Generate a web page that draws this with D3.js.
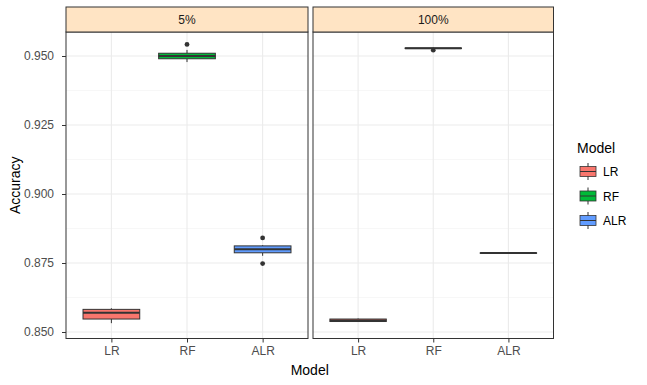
<!DOCTYPE html>
<html><head><meta charset="utf-8">
<script src="https://cdn.jsdelivr.net/npm/d3@7"></script>
<style>body{margin:0;background:#fff}svg{display:block}text{font-family:"Liberation Sans",Arial,sans-serif}</style>
</head><body>
<script>
const facets = ["5%", "100%"];
const models = ["LR", "RF", "ALR"];
const colors = ["#F8766D", "#00BA38", "#619CFF"];
const yTicks = [0.850, 0.875, 0.900, 0.925, 0.950];
// box stats per facet, per model: [lowWhisker, q1, median, q3, highWhisker]
const stats5 = [
  [0.8532, 0.8547, 0.8570, 0.8582, 0.8586],
  [0.9478, 0.9490, 0.9500, 0.9510, 0.9522],
  [0.8776, 0.8787, 0.8800, 0.8812, 0.8815]
];
const stats100 = [
  [0.8537, 0.8538, 0.8542, 0.8547, 0.8549],
  [0.9526, 0.9527, 0.9528, 0.9529, 0.9530],
  [0.8785, 0.8785, 0.8786, 0.8787, 0.8788]
];
const outliers5 = [[], [0.9542], [0.8841, 0.8748]];
const outliers100 = [[], [0.9521], []];

const W = 647, H = 385;
const svg = d3.select("body").append("svg").attr("width", W).attr("height", H);
const panels = [
  {x0: 66, x1: 308, stats: stats5, out: outliers5},
  {x0: 313, x1: 553.5, stats: stats100, out: outliers100}
];
const stripTop = 7, panelTop = 32, panelBottom = 338.5;
const y = d3.scaleLinear().domain([0.850, 0.950]).range([332, 56]);
const minorTicks = d3.range(0.8375, 0.97, 0.025);

panels.forEach((p, pi) => {
  const unit = (p.x1 - p.x0) / 3.2;
  const x = d3.scalePoint().domain(models).range([p.x0 + unit * 0.6, p.x1 - unit * 0.6]);
  const cx = m => x(m);
  const g = svg.append("g");
  g.append("rect").attr("x", p.x0).attr("y", panelTop).attr("width", p.x1 - p.x0).attr("height", panelBottom - panelTop).attr("fill", "#fff");
  minorTicks.forEach(t => {
    const yy = y(t);
    if (yy > panelTop && yy < panelBottom)
      g.append("line").attr("x1", p.x0).attr("x2", p.x1).attr("y1", yy).attr("y2", yy).attr("stroke", "#F2F2F2").attr("stroke-width", 0.6);
  });
  yTicks.forEach(t => {
    g.append("line").attr("x1", p.x0).attr("x2", p.x1).attr("y1", y(t)).attr("y2", y(t)).attr("stroke", "#EBEBEB").attr("stroke-width", 1.1);
  });
  models.forEach(m => {
    g.append("line").attr("x1", cx(m)).attr("x2", cx(m)).attr("y1", panelTop).attr("y2", panelBottom).attr("stroke", "#EBEBEB").attr("stroke-width", 1.1);
  });
  const bw = unit * 0.75;
  models.forEach((m, i) => {
    const s = p.stats[i];
    const c = cx(m);
    g.append("line").attr("x1", c).attr("x2", c).attr("y1", y(s[4])).attr("y2", y(s[3])).attr("stroke", "#333").attr("stroke-width", 1);
    g.append("line").attr("x1", c).attr("x2", c).attr("y1", y(s[1])).attr("y2", y(s[0])).attr("stroke", "#333").attr("stroke-width", 1);
    g.append("rect").attr("x", c - bw / 2).attr("y", y(s[3])).attr("width", bw).attr("height", Math.max(0, y(s[1]) - y(s[3])))
      .attr("fill", colors[i]).attr("stroke", "#333").attr("stroke-width", 1);
    g.append("line").attr("x1", c - bw / 2).attr("x2", c + bw / 2).attr("y1", y(s[2])).attr("y2", y(s[2])).attr("stroke", "#333").attr("stroke-width", 2);
    p.out[i].forEach(o => {
      g.append("circle").attr("cx", c).attr("cy", y(o)).attr("r", 2.4).attr("fill", "#333");
    });
  });
  g.append("rect").attr("x", p.x0).attr("y", panelTop).attr("width", p.x1 - p.x0).attr("height", panelBottom - panelTop).attr("fill", "none").attr("stroke", "#333").attr("stroke-width", 1);
  g.append("rect").attr("x", p.x0).attr("y", stripTop).attr("width", p.x1 - p.x0).attr("height", panelTop - stripTop).attr("fill", "#FFE4C4").attr("stroke", "#333").attr("stroke-width", 1);
  g.append("text").attr("x", (p.x0 + p.x1) / 2).attr("y", (stripTop + panelTop) / 2 + 4.5).attr("text-anchor", "middle").attr("font-size", 12).attr("fill", "#1A1A1A").text(facets[pi]);
  const xa = g.append("g").attr("transform", `translate(0,${panelBottom})`);
  const xAxis = d3.axisBottom(x).tickSize(4).tickPadding(4);
  xa.call(xAxis);
  xa.select(".domain").remove();
  xa.selectAll(".tick line").attr("stroke", "#333");
  xa.selectAll(".tick text").attr("font-size", 12).attr("fill", "#4D4D4D").attr("font-family", "Liberation Sans, Arial, sans-serif");
});

const ya = svg.append("g").attr("transform", `translate(${panels[0].x0},0)`);
const yAxis = d3.axisLeft(y).tickValues(yTicks).tickFormat(d3.format(".3f")).tickSize(4).tickPadding(8);
ya.call(yAxis);
ya.select(".domain").remove();
ya.selectAll(".tick line").attr("stroke", "#333");
ya.selectAll(".tick text").attr("font-size", 12).attr("fill", "#4D4D4D").attr("font-family", "Liberation Sans, Arial, sans-serif");

svg.append("text").attr("transform", `translate(20,${(panelTop + panelBottom) / 2}) rotate(-90)`).attr("text-anchor", "middle").attr("font-size", 14).attr("fill", "#000").text("Accuracy");
svg.append("text").attr("x", (panels[0].x0 + panels[1].x1) / 2).attr("y", 375).attr("text-anchor", "middle").attr("font-size", 14).attr("fill", "#000").text("Model");

const lg = svg.append("g");
lg.append("text").attr("x", 577).attr("y", 153).attr("font-size", 14).attr("fill", "#000").text("Model");
models.forEach((m, i) => {
  const ky = 163 + i * 24.5, kx = 579.5, ks = 17;
  lg.append("line").attr("x1", kx + ks / 2).attr("x2", kx + ks / 2).attr("y1", ky).attr("y2", ky + ks).attr("stroke", "#333");
  lg.append("rect").attr("x", kx + 0.5).attr("y", ky + 3.5).attr("width", ks - 1).attr("height", ks - 7).attr("fill", colors[i]).attr("stroke", "#333").attr("stroke-width", 0.8);
  lg.append("line").attr("x1", kx + 0.5).attr("x2", kx + ks - 0.5).attr("y1", ky + ks / 2).attr("y2", ky + ks / 2).attr("stroke", "#333").attr("stroke-width", 1);
  lg.append("text").attr("x", 603).attr("y", ky + ks / 2 + 4.5).attr("font-size", 12).attr("fill", "#000").text(m);
});
</script>
</body></html>
